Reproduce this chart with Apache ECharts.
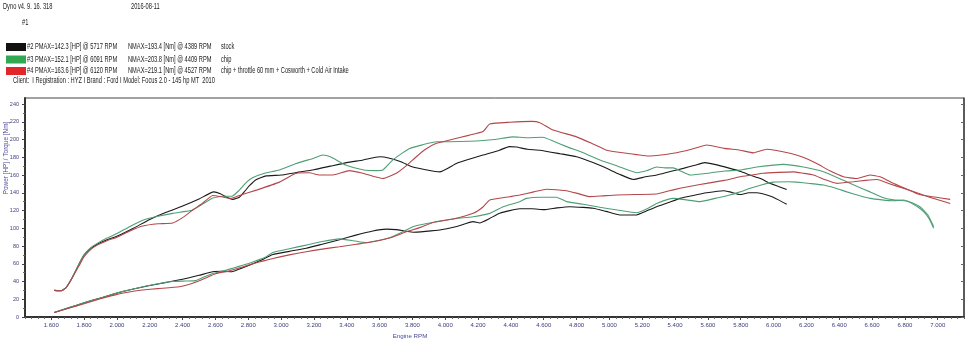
<!DOCTYPE html>
<html>
<head>
<meta charset="utf-8">
<script src="https://cdn.jsdelivr.net/npm/echarts@6/dist/echarts.min.js"></script>
<style>
html,body{margin:0;padding:0;background:#fff;}
#chart{width:976px;height:358px;}
</style>
</head>
<body>
<div id="chart"></div>
<script>
// ---- data: [engine rpm, value] ----
const stockTorque = [[1618,30],[1660,29.5],[1690,33],[1730,45],[1770,60],[1800,70],[1840,77],[1880,82],[1940,87],[2000,91],[2100,100],[2200,110],[2300,118],[2400,125],[2500,133],[2590,141],[2630,139],[2670,135],[2706,132.6],[2746,135],[2780,142],[2807,148],[2850,155],[2909,159],[3000,160],[3100,163],[3200,166],[3300,170],[3400,174],[3500,177],[3600,180.6],[3661,179],[3730,175],[3803,169],[3880,166],[3966,163.5],[4068,173],[4150,178],[4230,182.5],[4330,188],[4390,192],[4434,191.5],[4500,189],[4576,188],[4700,184],[4800,180.6],[4900,174],[4983,167.5],[5060,161],[5145,155],[5220,158],[5288,160],[5370,164],[5450,167.5],[5520,171],[5580,174],[5640,172],[5734,167.5],[5800,164],[5857,160],[5920,156],[5978,150.6],[6030,147],[6080,143.8]];
const stockPower = [[1618,5],[1700,10],[1800,16],[1900,21.5],[2000,27],[2100,31.5],[2200,35.5],[2300,39],[2400,42.5],[2500,47],[2584,51],[2640,51.5],[2700,51],[2760,55],[2828,60],[2900,66],[2950,70.5],[3050,74],[3153,77.5],[3250,82],[3356,87],[3450,92],[3559,97],[3641,99],[3702,98.5],[3803,95.5],[3880,96.5],[3966,98],[4070,102],[4170,107.5],[4210,106],[4270,111],[4332,117],[4454,122],[4530,122],[4600,121],[4680,123],[4759,124.3],[4840,123.5],[4901,122.5],[4980,119],[5064,115],[5166,115],[5220,119],[5288,124.3],[5360,129],[5430,133.7],[5510,137],[5593,140],[5694,142.3],[5734,141],[5795,138],[5850,140],[5897,140],[5978,136.3],[6030,132],[6080,127]];
const chipTorque = [[1618,30],[1660,29.5],[1690,33],[1730,45],[1770,60],[1800,70],[1840,78],[1880,83],[1940,89],[2000,94],[2080,102],[2157,109],[2250,113.5],[2340,116.8],[2420,119],[2462,120.6],[2520,127],[2584,134],[2640,136],[2700,136],[2746,143],[2790,152],[2826,157],[2900,162],[2990,165.6],[3092,173],[3200,179],[3254,182.5],[3300,180.5],[3397,171],[3498,166],[3580,165],[3620,165.6],[3681,177],[3740,185],[3783,190],[3860,194],[3946,197.5],[4027,197.5],[4149,198],[4300,200],[4409,203],[4500,202],[4594,202.5],[4660,198],[4739,192],[4840,185],[4942,177],[5050,170],[5166,162.6],[5230,165],[5288,169],[5340,168],[5389,168],[5440,164],[5491,160],[5600,162],[5700,164.5],[5796,165.6],[5897,169],[6060,172],[6182,169],[6304,163.7],[6426,154],[6510,147],[6588,141],[6660,135],[6730,132],[6812,130.5],[6870,125],[6914,118.7],[6950,110],[6975,100]];
const chipPower = [[1618,5],[1700,10],[1800,16],[1900,21.5],[2000,27],[2100,31.5],[2157,34],[2250,37.5],[2340,40],[2420,40.5],[2482,41],[2530,45],[2584,49],[2650,52],[2706,55],[2770,58.5],[2828,62],[2900,67],[2950,72.8],[3050,77],[3153,81],[3250,85],[3356,88],[3440,86],[3519,83.7],[3600,86.5],[3661,89.4],[3730,95],[3803,101.7],[3880,105],[3966,108],[4070,111],[4170,113],[4271,116.8],[4350,124],[4454,130],[4494,133.7],[4580,135],[4677,135],[4739,130],[4840,127],[4942,123.6],[5050,120.5],[5166,117.5],[5230,122],[5288,128],[5389,133.7],[5470,132],[5552,130],[5650,134],[5734,137.5],[5796,141],[5857,145],[5930,149],[5999,152],[6091,152.5],[6141,152],[6220,150.5],[6304,148.7],[6380,145],[6446,141],[6520,137],[6588,133.7],[6660,132],[6730,131],[6791,131.8],[6840,129],[6893,124],[6940,115],[6975,102]];
const tunedTorque = [[1618,30],[1660,29.5],[1690,33],[1730,45],[1770,58],[1800,68],[1840,76],[1880,81],[1940,86],[2000,90],[2080,97],[2157,102.5],[2250,105],[2340,106],[2400,112],[2462,120.6],[2520,128],[2584,137],[2650,135],[2696,133.7],[2746,137],[2850,143],[2990,152],[3092,162],[3173,162.5],[3234,160],[3315,160],[3417,165],[3498,162],[3620,156],[3702,162],[3760,170],[3824,180.6],[3880,189],[3946,195.7],[4027,199.4],[4149,205],[4230,209],[4271,217.5],[4393,219.5],[4527,220.5],[4576,219],[4657,210.7],[4800,203],[4900,195],[4983,188],[5105,184.5],[5247,181.4],[5389,184.5],[5500,189],[5593,193.8],[5700,190],[5796,188],[5877,185],[5958,189],[6100,184.5],[6180,180],[6263,173],[6340,165],[6426,158],[6507,156],[6588,160],[6649,158],[6730,150.6],[6800,145],[6873,139],[6950,136],[7076,132.6]];
const tunedPower = [[1618,5],[1700,9.5],[1800,15],[1900,20.5],[2000,25.5],[2100,29],[2157,30.5],[2250,32],[2380,34],[2462,38],[2530,43],[2604,49],[2686,52],[2760,56],[2828,60],[2900,63.5],[2950,66],[3050,70],[3153,73.6],[3250,76.5],[3356,79.2],[3459,82],[3559,84.8],[3660,89],[3763,96],[3850,101],[3925,106.6],[4047,110.4],[4170,116.8],[4230,124],[4271,131.8],[4393,135.6],[4454,137.5],[4540,141],[4617,144],[4739,142.3],[4810,139],[4881,135.6],[4960,136.5],[5044,137.5],[5166,138],[5288,138.6],[5360,142],[5430,145],[5510,148],[5593,150.6],[5700,154],[5796,158],[5870,160],[5937,162],[6030,163],[6120,163.6],[6180,162],[6243,160],[6310,155],[6385,150.6],[6487,152.5],[6560,154],[6629,155],[6710,150],[6790,145],[6873,140],[6950,135],[7076,128]];

const xTickValues = [1600,1800,2000,2200,2400,2600,2800,3000,3200,3400,3600,3800,4000,4200,4400,4600,4800,5000,5200,5400,5600,5800,6000,6200,6400,6600,6800,7000];
const yTickValues = [0,20,40,60,80,100,120,140,160,180,200,220,240];

const headerLines = [
  {text:'Dyno v4. 9. 16. 318', x:3, y:7},
  {text:'2016-08-11', x:131, y:7},
  {text:'#1', x:22, y:23}
];
const legendRows = [
  {swatch:'#111111', id:'#2 PMAX=142.3 [HP] @ 5717 RPM', nmax:'NMAX=193.4 [Nm] @ 4389 RPM', label:'stock', y:47},
  {swatch:'#33a852', id:'#3 PMAX=152.1 [HP] @ 6091 RPM', nmax:'NMAX=203.8 [Nm] @ 4409 RPM', label:'chip', y:59.5},
  {swatch:'#e3262b', id:'#4 PMAX=163.6 [HP] @ 6120 RPM', nmax:'NMAX=219.1 [Nm] @ 4527 RPM', label:'chip + throttle 60 mm + Cosworth + Cold Air Intake', y:71}
];
const clientLine = 'Client:  I Registration : HYZ I Brand : Ford I Model: Focus 2.0 - 145 hp MT  2010';

// ---- build ----
const minorX = [];
for (let v = 1440; v <= 7160; v += 40) if (v % 200 !== 0) minorX.push(v);
const minorY = [];
for (let v = 10; v <= 240; v += 20) minorY.push(v);

const FONT = '"Liberation Sans", Arial, sans-serif';
const SX = 0.67;
function txt(t, x, y, extra) {
  return Object.assign({
    type:'text', x:x, y:y, scaleX:SX, silent:true,
    style:{text:t, fontSize:8.5, fontFamily:FONT, fill:'#222', textVerticalAlign:'middle', verticalAlign:'middle'}
  }, extra || {});
}
const graphics = [];
headerLines.forEach(h => graphics.push(txt(h.text, h.x, h.y)));
legendRows.forEach(r => {
  graphics.push({type:'rect', shape:{x:6, y:r.y-4, width:20, height:8}, style:{fill:r.swatch}, silent:true});
  graphics.push(txt(r.id, 27, r.y));
  graphics.push(txt(r.nmax, 128, r.y));
  graphics.push(txt(r.label, 221, r.y));
});
graphics.push(txt(clientLine, 13, 81));
graphics.push({type:'text', x:6, y:158, rotation:Math.PI/2, silent:true,
  style:{text:'Power [HP] / Torque [Nm]', fontSize:6.4, fontFamily:FONT, fill:'#4a4a9a', align:'center', verticalAlign:'middle'}});
graphics.push({type:'text', x:410, y:336, silent:true,
  style:{text:'Engine RPM', fontSize:6.2, fontFamily:FONT, fill:'#4a4a9a', align:'center', verticalAlign:'middle'}});

function fmtRpm(v){ const s = String(v); return s.length > 3 ? s.slice(0, s.length-3) + '.' + s.slice(-3) : s; }

const chart = echarts.init(document.getElementById('chart'), null, {renderer:'canvas'});
const lineSeries = (name, data, color) => ({
  name, type:'line', data, xAxisIndex:0, yAxisIndex:0, showSymbol:false, symbol:'none',
  smooth:0.15, lineStyle:{width:1.1, color}, itemStyle:{color}, z:3
});
chart.setOption({
  animation:false,
  backgroundColor:'#ffffff',
  grid:{left:25, right:12, top:98, bottom:41, show:true, borderColor:'#444', borderWidth:1},
  xAxis:[
    {type:'value', min:1440, max:7160, position:'bottom',
     axisLine:{show:true, onZero:false, lineStyle:{color:'#333', width:2}},
     axisTick:{show:true, customValues:xTickValues, length:3, lineStyle:{color:'#444'}},
     axisLabel:{show:true, customValues:xTickValues, formatter:fmtRpm, fontSize:6, fontFamily:FONT, color:'#3b3b7d', margin:5},
     splitLine:{show:false}},
    {type:'value', min:1440, max:7160, position:'bottom',
     axisLine:{show:false}, axisLabel:{show:false}, splitLine:{show:false},
     axisTick:{show:true, customValues:minorX, length:2, lineStyle:{color:'#666'}}}
  ],
  yAxis:[
    {type:'value', min:0, max:246.8, position:'left',
     axisLine:{show:true, onZero:false, lineStyle:{color:'#333', width:2}},
     axisTick:{show:true, customValues:yTickValues, length:3, lineStyle:{color:'#444'}},
     axisLabel:{show:true, customValues:yTickValues, fontSize:5.5, fontFamily:FONT, color:'#3b3b7d', margin:6},
     splitLine:{show:false}},
    {type:'value', min:0, max:246.8, position:'left',
     axisLine:{show:false}, axisLabel:{show:false}, splitLine:{show:false},
     axisTick:{show:true, customValues:minorY, length:2, lineStyle:{color:'#666'}}},
    {type:'value', min:0, max:246.8, position:'right',
     axisLine:{show:true, onZero:false, lineStyle:{color:'#444', width:1.5}}, axisLabel:{show:false}, splitLine:{show:false},
     axisTick:{show:true, inside:true, customValues:yTickValues, length:3, lineStyle:{color:'#666'}}}
  ],
  series:[
    lineSeries('stock torque', stockTorque, '#1a1a1a'),
    lineSeries('stock power', stockPower, '#1a1a1a'),
    lineSeries('chip torque', chipTorque, '#4f9f76'),
    lineSeries('chip power', chipPower, '#4f9f76'),
    lineSeries('tuned torque', tunedTorque, '#b4474a'),
    lineSeries('tuned power', tunedPower, '#b4474a')
  ],
  graphic:graphics
});
</script>
</body>
</html>
